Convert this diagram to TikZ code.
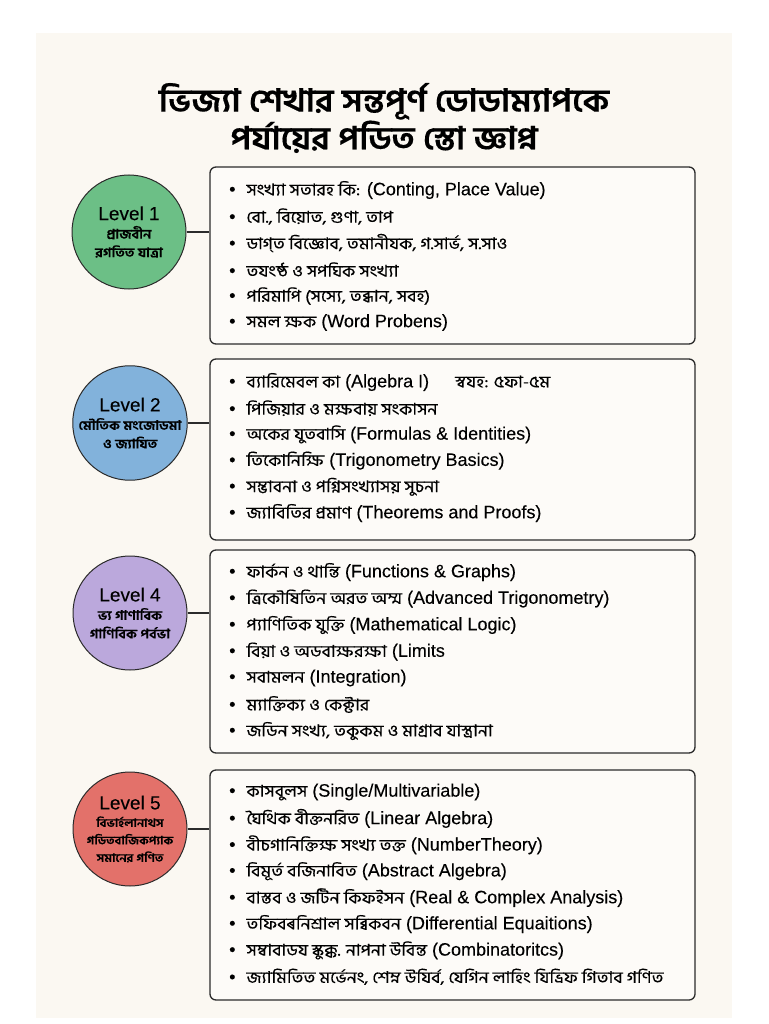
\documentclass[tikz,border=0pt]{standalone}
\usepackage{fontspec}
\setmainfont{Liberation Sans}[FakeBold=0.15]
\newfontfamily\bn[Script=Bengali, FakeStretch=1.1, FakeBold=0.35]{Hind Siliguri}
\usepackage{xcolor}
\usepackage{tikz}
\usetikzlibrary{positioning}

\definecolor{paper}{HTML}{FBF8F2}
\definecolor{lvone}{HTML}{6CBF86}
\definecolor{lvtwo}{HTML}{82B2DB}
\definecolor{lvfour}{HTML}{BBA8DC}
\definecolor{lvfive}{HTML}{E3716A}
\definecolor{edge}{HTML}{2B2B2B}

\begin{document}
\begin{tikzpicture}[x=1pt, y=-1pt,
  lv/.style={circle, draw=edge, line width=1pt, minimum size=114pt, inner sep=0pt, align=center,
    font=\bn\bfseries\fontsize{13}{18.5}\selectfont},
  bx/.style={draw=edge, line width=1.3pt, rounded corners=6pt, fill=paper!50!white,
    minimum width=485pt, inner sep=0pt},
  it/.style={anchor=west, inner sep=0pt, font=\fontsize{18}{19}\selectfont},
  ln/.style={draw=edge, line width=1.2pt}]
\useasboundingbox (0,0) rectangle (768,1024);
\fill[white] (0,0) rectangle (768,1024);
\fill[paper] (36,33) rectangle (732,1018);
% title
\node[align=center, font=\bn\bfseries\fontsize{31.5}{29}\selectfont] (title) at (384,118)
  {ভিজ্যা শেখার সন্তপূর্ণ ডোডাম্যাপকে\\পর্যায়ের পডিত স্তো জ্ঞাপ্ন};
% levels
\node[lv, fill=lvone] (c1) at (129,232) {{\rmfamily\mdseries\fontsize{19}{18.5}\selectfont Level 1}\\প্রাজবীন\\রগতিত যাত্রা};
\node[lv, fill=lvtwo] (c2) at (130,423) {{\rmfamily\mdseries\fontsize{19}{18.5}\selectfont Level 2}\\মৌতিক মংজোডমা\\ও জ্যাযিত};
\node[lv, fill=lvfour] (c4) at (130,613) {{\rmfamily\mdseries\fontsize{19}{18.5}\selectfont Level 4}\\ভ্য গাণাবিক\\গাণিবিক পর্বভা};
\node[lv, fill=lvfive, font=\bn\bfseries\fontsize{11.5}{17.5}\selectfont] (c5) at (130,829)
  {{\rmfamily\mdseries\fontsize{19}{18.5}\selectfont Level 5}\\বিভার্হলানাথস\\গডিতবাজিকপ্যাক\\সমানের গণিত};
% boxes
\node[bx, minimum height=177pt] (b1) at (452.5,255.5) {};
\node[bx, minimum height=181pt] (b2) at (452.5,449.5) {};
\node[bx, minimum height=203pt] (b3) at (452.5,651.5) {};
\node[bx, minimum height=230pt] (b4) at (452.5,885) {};
\draw[ln] (c1) -- (c1 -| b1.west);
\draw[ln] (c2) -- (c2 -| b2.west);
\draw[ln] (c4) -- (c4 -| b3.west);
\draw[ln] (c5) -- (c5 -| b4.west);
% level 1 items
\node[it] (a1) at (229,190) {•\hspace{11pt}{\bn\fontsize{16.2}{19}\selectfont সংখ্যা সতারহ কি:} (Conting, Place Value)};
\node[it] (a2) at (229,216.5) {•\hspace{11pt}{\bn\fontsize{16.2}{19}\selectfont বো., বিয়োত, গুণা, তাপ}};
\node[it] (a3) at (229,243) {•\hspace{11pt}{\bn\fontsize{16.2}{19}\selectfont ডাগ্ত বিজ্ঞোব, তমানীযক, গ.সার্ভ, স.সাও}};
\node[it] (a4) at (229,269.5) {•\hspace{11pt}{\bn\fontsize{16.2}{19}\selectfont তযংষ্ঠ ও সপঘিক সংখ্যা}};
\node[it] (a5) at (229,296) {•\hspace{11pt}{\bn\fontsize{16.2}{19}\selectfont পরিমাপি (সস্যে, তব্ধান, সবহ)}};
\node[it] (a6) at (229,322.5) {•\hspace{11pt}{\bn\fontsize{16.2}{19}\selectfont সমল ক্ষক} (Word Probens)};
% level 2 items
\node[it] (d1) at (229,382) {•\hspace{11pt}{\bn\fontsize{16.2}{19}\selectfont ব্যারিমেবল কা} (Algebra I)\hspace{26pt}{\bn\fontsize{16.2}{19}\selectfont স্বযহ: ৫ফা-৫ম}};
\node[it] (d2) at (229,408.2) {•\hspace{11pt}{\bn\fontsize{16.2}{19}\selectfont পিজিয়ার ও মক্ষবায় সংকাসন}};
\node[it] (d3) at (229,434.4) {•\hspace{11pt}{\bn\fontsize{16.2}{19}\selectfont অকের যুতবাসি} (Formulas \& Identities)};
\node[it] (d4) at (229,460.6) {•\hspace{11pt}{\bn\fontsize{16.2}{19}\selectfont তিকোনিক্ষি} (Trigonometry Basics)};
\node[it] (d5) at (229,486.8) {•\hspace{11pt}{\bn\fontsize{16.2}{19}\selectfont সম্ভাবনা ও পগ্নিসংখ্যাসয় সুচনা}};
\node[it] (d6) at (229,513) {•\hspace{11pt}{\bn\fontsize{16.2}{19}\selectfont জ্যাবিতির প্রমাণ} (Theorems and Proofs)};
% level 4 items
\node[it] (f1) at (229,572) {•\hspace{11pt}{\bn\fontsize{16.2}{19}\selectfont ফার্কন ও থান্তি} (Functions \& Graphs)};
\node[it] (f2) at (229,598.5) {•\hspace{11pt}{\bn\fontsize{16.2}{19}\selectfont ত্রিকৌষিতিন অরত অম্ম} (Advanced Trigonometry)};
\node[it] (f3) at (229,625) {•\hspace{11pt}{\bn\fontsize{16.2}{19}\selectfont প্যাণিতিক যুক্তি} (Mathematical Logic)};
\node[it] (f4) at (229,651.5) {•\hspace{11pt}{\bn\fontsize{16.2}{19}\selectfont বিয়া ও অডবাক্ষরক্ষা} (Limits};
\node[it] (f5) at (229,678) {•\hspace{11pt}{\bn\fontsize{16.2}{19}\selectfont সবামলন} (Integration)};
\node[it] (f6) at (229,704.5) {•\hspace{11pt}{\bn\fontsize{16.2}{19}\selectfont ম্যাক্তিক্য ও কেক্টার}};
\node[it] (f7) at (229,731) {•\hspace{11pt}{\bn\fontsize{16.2}{19}\selectfont জডিন সংখ্য, তকুকম ও মাগ্রাব যাস্ত্রানা}};
% level 5 items
\node[it] (g1) at (229,792) {•\hspace{11pt}{\bn\fontsize{16.2}{19}\selectfont কাসবুলস} (Single/Multivariable)};
\node[it] (g2) at (229,818.4) {•\hspace{11pt}{\bn\fontsize{16.2}{19}\selectfont ঘৈথিক বীক্তনরিত} (Linear Algebra)};
\node[it] (g3) at (229,844.8) {•\hspace{11pt}{\bn\fontsize{16.2}{19}\selectfont বীচগানিক্তিক্ষ সংখ্য তক্ত} (NumberTheory)};
\node[it] (g4) at (229,871.2) {•\hspace{11pt}{\bn\fontsize{16.2}{19}\selectfont বিমূর্ত বজিনাবিত} (Abstract Algebra)};
\node[it] (g5) at (229,897.6) {•\hspace{11pt}{\bn\fontsize{16.2}{19}\selectfont বাস্তব ও জটিন কিফইসন} (Real \& Complex Analysis)};
\node[it] (g6) at (229,924) {•\hspace{11pt}{\bn\fontsize{16.2}{19}\selectfont তফিবৰনিশ্রাল সব্বিকবন} (Differential Equaitions)};
\node[it] (g7) at (229,950.4) {•\hspace{11pt}{\bn\fontsize{16.2}{19}\selectfont সম্বাবাডয স্কুক্ক. নাপনা উবিন্ত} (Combinatoritcs)};
\node[it] (g8) at (229,976.8) {•\hspace{11pt}{\bn\fontsize{16.2}{19}\selectfont জ্যামিতিত মর্ভেনং, শেম্ন উযির্ব, যেগিন লাহিং যিভ্রিফ গিতাব গণিত}};
\end{tikzpicture}
\end{document}
